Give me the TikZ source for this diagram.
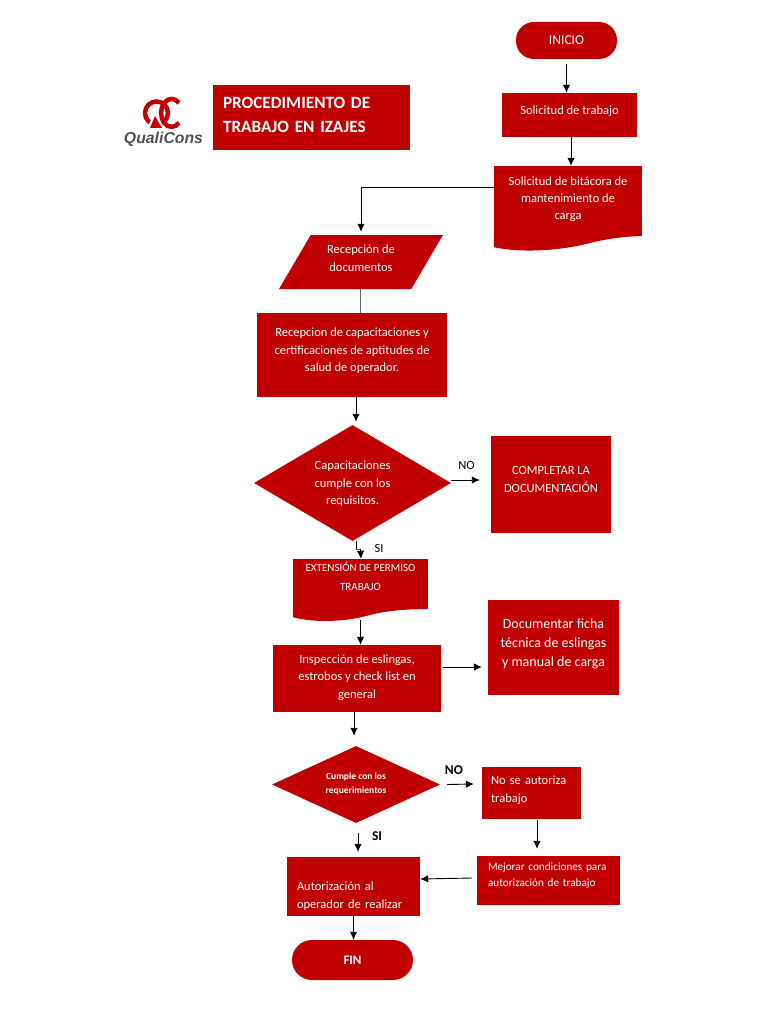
\documentclass[tikz,border=0pt]{standalone}
\usepackage{fontspec}
\setmainfont{Carlito}
\newfontfamily\logofont{Liberation Sans}
\usetikzlibrary{shapes.geometric,arrows.meta}
\definecolor{rojo}{HTML}{C00000}
\definecolor{gris}{HTML}{4F5154}
\tikzset{
  caja/.style={fill=rojo,text=white,align=center,inner sep=0pt,font=\fontsize{12.5}{17.5}\selectfont},
  terminal/.style={caja,rounded corners=18pt},
  rombo/.style={caja,diamond},
  flecha/.style={-{Latex[length=8pt,width=7.5pt]},line width=0.9pt},
  rotulo/.style={font=\fontsize{12.5}{15}\selectfont,inner sep=0pt},
}
\begin{document}
\begin{tikzpicture}[x=1pt,y=-1pt]
\useasboundingbox (0,0) rectangle (768,1024);
% logo
\draw[rojo,line width=4.5pt] (156.5,113) circle (11.5);
\fill[white] (147,128) -- (155,112) -- (165,128) -- cycle;
\fill[rojo] (150,128) -- (155,116) -- (162,128) -- cycle;
\draw[rojo,line width=4.5pt] (179,103) arc (-45:-315:10.5 and 14);
\node[font=\logofont\bfseries\itshape\fontsize{15.8}{16}\selectfont,text=gris,inner sep=0pt] (marca) at (163.5,139) {QualiCons};
% titulo
\node[caja,minimum width=197pt,minimum height=65pt,inner xsep=10pt,text width=177pt,align=left,font=\bfseries\fontsize{17.2}{24}\selectfont,text depth=30pt] (titulo) at (311.5,117.5) {PROCEDIMIENTO DE\\TRABAJO EN IZAJES};
% columna principal
\node[terminal,minimum width=101pt,minimum height=37pt,font=\fontsize{13.5}{15}\selectfont,text depth=1pt] (inicio) at (566.5,40.5) {INICIO};
\node[caja,minimum width=135pt,minimum height=44pt,text depth=10pt] (solicitud) at (569.5,115) {Solicitud de trabajo};
\node[caja,minimum width=148pt,minimum height=70pt,font=\fontsize{12.5}{17}\selectfont,text depth=5pt] (bitacora) at (568,201) {Solicitud de bitácora de\\mantenimiento de\\carga};
\fill[rojo] (bitacora.south west) -- ++(0,11) .. controls (520,253) and (560,251) .. (590,243) .. controls (610,238) and (630,236) .. (bitacora.south east) -- cycle;
\node[caja,trapezium,trapezium stretches=true,trapezium left angle=58,trapezium right angle=122,minimum width=164pt,minimum height=54pt,text depth=8pt] (recepcion) at (361,262) {Recepción de\\documentos};
\node[caja,minimum width=190pt,minimum height=84pt,text depth=10pt] (capacita) at (352,355) {Recepcion de capacitaciones y\\certificaciones de aptitudes de\\salud de operador.};
\node[rombo,aspect=1.7,minimum width=197pt,minimum height=116pt,text depth=-4pt] (cumple) at (352.5,483) {Capacitaciones\\cumple con los\\requisitos.};
\node[caja,minimum width=120pt,minimum height=97pt,font=\fontsize{12.5}{18}\selectfont,text depth=10pt] (completar) at (551,484.5) {COMPLETAR LA\\DOCUMENTACIÓN};
\node[caja,minimum width=135pt,minimum height=50pt,font=\fontsize{11}{18.5}\selectfont,text depth=15pt] (permiso) at (360.5,584) {EXTENSIÓN DE PERMISO\\TRABAJO};
\fill[rojo] (permiso.south west) -- ++(0,8) .. controls (315,623) and (345,622) .. (370,615) .. controls (390,610) and (410,609) .. (permiso.south east) -- cycle;
\node[caja,minimum width=168pt,minimum height=67pt,text depth=4pt] (eslingas) at (357,678.5) {Inspección de eslingas,\\estrobos y check list en\\general};
\node[caja,minimum width=131pt,minimum height=95pt,font=\fontsize{14}{19}\selectfont,text depth=10pt] (ficha) at (553.5,647.5) {Documentar ficha\\técnica de eslingas\\y manual de carga};
\node[rombo,aspect=2.18,minimum width=168pt,minimum height=77pt,font=\bfseries\fontsize{9.5}{14}\selectfont,text depth=2pt] (requisito) at (356,784.5) {Cumple con los\\requerimientos};
\node[caja,minimum width=99pt,minimum height=52pt,inner xsep=9pt,text width=81pt,align=left,font=\fontsize{12.5}{18}\selectfont,text depth=25pt] (noauto) at (531.5,793) {No se autoriza\\trabajo};
\node[caja,minimum width=143pt,minimum height=49pt,inner xsep=11pt,text width=121pt,align=left,font=\fontsize{11.2}{16}\selectfont,text depth=27pt] (mejorar) at (548.5,880.5) {Mejorar condiciones para\\autorización de trabajo};
\node[caja,minimum width=133pt,minimum height=59pt,inner xsep=10pt,text width=113pt,align=left,text depth=-4pt] (autoriza) at (353.5,886.5) {Autorización al\\operador de realizar\\izajes};
\node[terminal,minimum width=121pt,minimum height=40pt,rounded corners=20pt,font=\bfseries\fontsize{13}{15}\selectfont] (fin) at (352.5,960) {FIN};
% rotulos
\node[rotulo] (no1) at (466.5,465) {NO};
\node[rotulo] (si1) at (379,548) {SI};
\node[rotulo,font=\bfseries\fontsize{13.5}{15}\selectfont] (no2) at (454,770) {NO};
\node[rotulo,font=\bfseries\fontsize{13.5}{15}\selectfont] (si2) at (377,836) {SI};
% conectores
\draw[flecha] ([yshift=-5pt]inicio.south) -- (inicio.south |- solicitud.north);
\draw[flecha] ([xshift=1.5pt]solicitud.south) -- ([xshift=1.5pt]solicitud.south |- bitacora.north);
\draw[flecha] ([yshift=14pt]bitacora.west) -| ([yshift=3pt]recepcion.north);
\draw[line width=1pt,black!60] ([xshift=-1pt]recepcion.south) -- ([xshift=-1pt]recepcion.south |- capacita.north);
\draw[flecha] ([xshift=4pt]capacita.south) -- ([xshift=4pt,yshift=3pt]capacita.south |- cumple.north);
\draw[flecha] ([yshift=3pt]cumple.east) -- ([xshift=-11pt,yshift=4.5pt]completar.west);
\draw[flecha] ([xshift=4pt]cumple.south) -- ++(0,8) -- ++(4,0) -- ([xshift=0.5pt]permiso.north);
\draw[flecha] ([yshift=-11pt]permiso.south) -- (permiso.south |- eslingas.north);
\draw[flecha] ([xshift=2pt,yshift=11.5pt]eslingas.east) -- ([xshift=-6pt,yshift=-19.5pt]ficha.west);
\draw[flecha] ([xshift=-3pt]eslingas.south) -- ([xshift=-3pt,yshift=10pt]eslingas.south |- requisito.north);
\draw[flecha] ([xshift=7pt]requisito.east) -- ([xshift=-8pt,yshift=9pt]noauto.west);
\draw[flecha] ([xshift=5.5pt,yshift=-1pt]noauto.south) -- ([xshift=-11.5pt,yshift=7pt]mejorar.north);
\draw[flecha] ([xshift=-5pt,yshift=2.5pt]mejorar.west) -- ([yshift=7.5pt]autoriza.east);
\draw[flecha] ([xshift=2pt,yshift=-10pt]requisito.south) -- ([xshift=4.5pt,yshift=5pt]autoriza.north);
\draw[flecha] (autoriza.south) -- (autoriza.south |- fin.north);
\end{tikzpicture}
\end{document}
